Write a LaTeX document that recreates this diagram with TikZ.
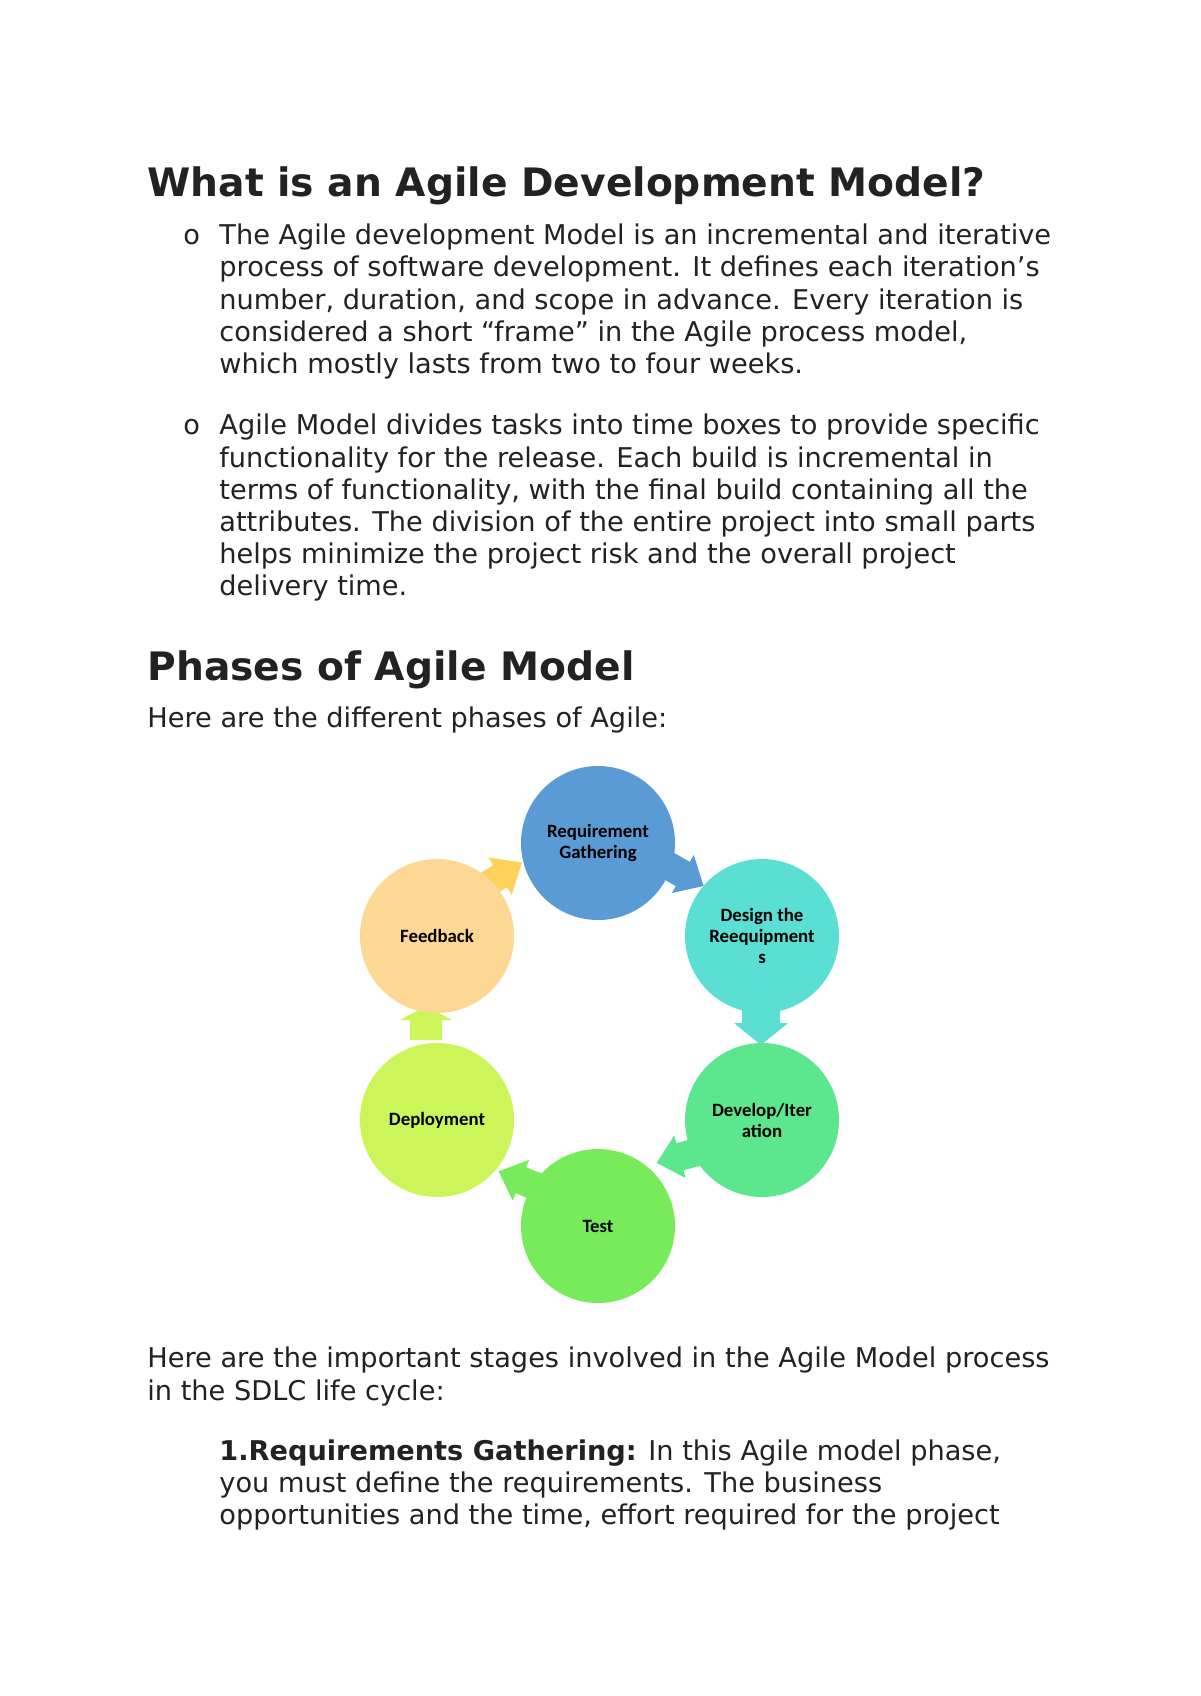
\documentclass[tikz,border=0pt]{standalone}
\usepackage{fontspec}
\setmainfont{DejaVu Sans}
\newfontfamily\carlitofont{Carlito}
\definecolor{tx}{HTML}{222222}
\definecolor{cReq}{HTML}{5B9BD5}
\definecolor{cDes}{HTML}{5BDED3}
\definecolor{cDev}{HTML}{5CE68E}
\definecolor{cTest}{HTML}{78EB5A}
\definecolor{cDep}{HTML}{CCF55A}
\definecolor{cFb}{HTML}{FDD894}
\definecolor{cFbA}{HTML}{FFD25C}
\newcommand{\blockarr}[8]{% x y angle len headlen halfshaft halfhead color
  \begin{scope}[shift={(#1,#2)},rotate=#3]
  \fill[#8] (0,-#6) -- ({#4-#5},-#6) -- ({#4-#5},-#7) -- (#4,0) -- ({#4-#5},#7) -- ({#4-#5},#6) -- (0,#6) -- cycle;
  \end{scope}}
\begin{document}
\begin{tikzpicture}[x=0.5pt,y=-0.5pt,
  line/.style={anchor=base west,inner sep=0pt,text=tx,font=\fontsize{13.6}{16}\selectfont},
  head/.style={anchor=base west,inner sep=0pt,text=tx,font=\fontsize{19.6}{23}\selectfont\bfseries},
  phase/.style={circle,minimum size=154pt*0.5,inner sep=0pt,align=center,text=black,font=\carlitofont\fontsize{9.4}{10.5}\selectfont\bfseries}]
\useasboundingbox (0,0) rectangle (1200,1696);
\fill[white] (0,0) rectangle (1200,1696);
\node[head] (h1) at (147,197) {What is an Agile Development Model?};
\node[line] (b1) at (183,244) {o};
\node[line] (l1) at (219,244) {The Agile development Model is an incremental and iterative};
\node[line] (l2) at (219,277) {process of software development. It defines each iteration’s};
\node[line] (l3) at (219,309) {number, duration, and scope in advance. Every iteration is};
\node[line] (l4) at (219,341) {considered a short “frame” in the Agile process model,};
\node[line] (l5) at (219,373) {which mostly lasts from two to four weeks.};
\node[line] (b2) at (183,434) {o};
\node[line] (m1) at (219,434) {Agile Model divides tasks into time boxes to provide specific};
\node[line] (m2) at (219,467) {functionality for the release. Each build is incremental in};
\node[line] (m3) at (219,499) {terms of functionality, with the final build containing all the};
\node[line] (m4) at (219,531) {attributes. The division of the entire project into small parts};
\node[line] (m5) at (219,563) {helps minimize the project risk and the overall project};
\node[line] (m6) at (219,595) {delivery time.};
\node[head] (h2) at (147,680) {Phases of Agile Model};
\node[line] (p1) at (147,727) {Here are the different phases of Agile:};
\node[line] (q1) at (147,1367) {Here are the important stages involved in the Agile Model process};
\node[line] (q2) at (147,1400) {in the SDLC life cycle:};
\node[line] (r1) at (219,1460) {\textbf{1.Requirements Gathering:} In this Agile model phase,};
\node[line] (r2) at (219,1492) {you must define the requirements. The business};
\node[line] (r3) at (219,1524) {opportunities and the time, effort required for the project};
% arrows
\blockarr{478}{890}{32}{52}{26}{13}{22}{cFbA}
\blockarr{662}{862}{-30}{48}{24}{14}{22}{cReq}
\blockarr{761}{1006}{-90}{39}{22}{19}{27}{cDes}
\blockarr{705}{1150}{-165}{50}{24}{14}{22}{cDev}
\blockarr{545}{1190}{158}{50}{24}{14}{22}{cTest}
\blockarr{426}{1040}{90}{34}{14}{16}{26}{cDep}
% circles
\node[phase,fill=cReq] (req) at (598,843) {Requirement\\Gathering};
\node[phase,fill=cDes] (des) at (762,936) {Design the\\Reequipment\\s};
\node[phase,fill=cDev] (dev) at (762,1120) {Develop/Iter\\ation};
\node[phase,fill=cTest] (test) at (598,1226) {Test};
\node[phase,fill=cDep] (dep) at (437,1120) {Deployment};
\node[phase,fill=cFb] (fb) at (437,936) {Feedback};
\end{tikzpicture}
\end{document}
